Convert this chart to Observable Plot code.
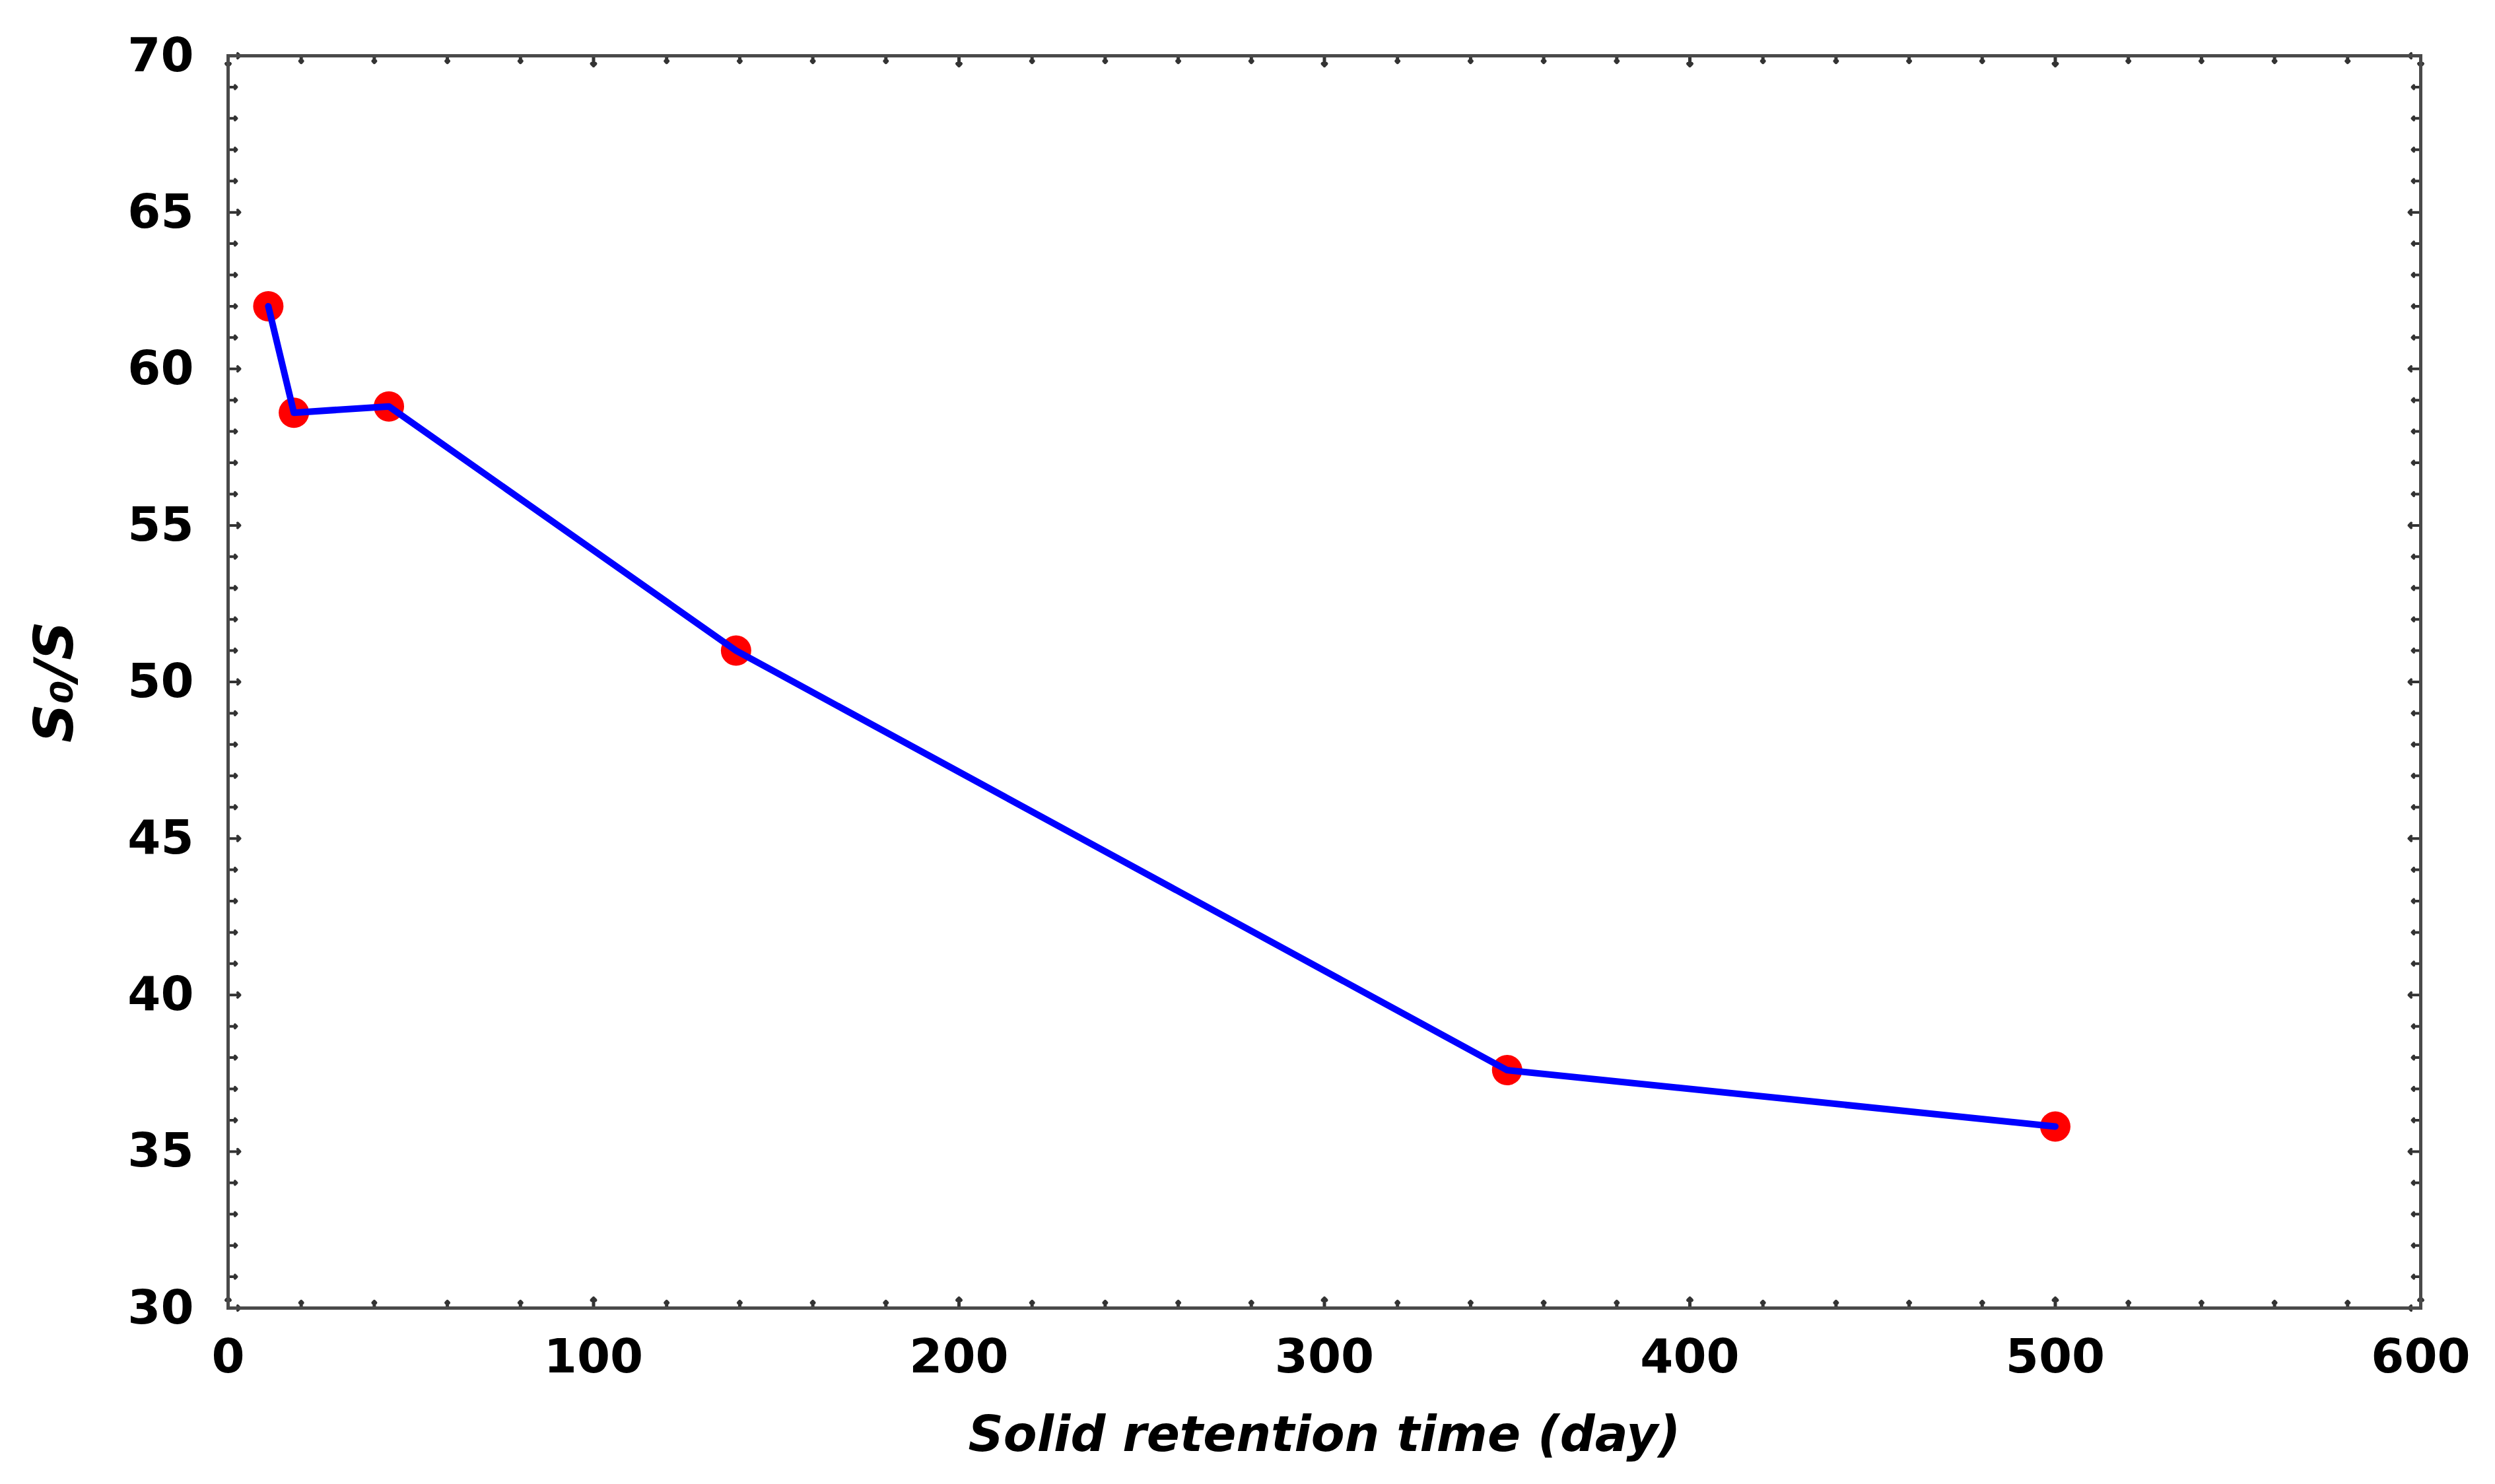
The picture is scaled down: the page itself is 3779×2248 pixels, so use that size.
<!DOCTYPE html>
<html><head><meta charset="utf-8">
<script src="https://cdn.jsdelivr.net/npm/d3@7"></script>
<script src="https://cdn.jsdelivr.net/npm/@observablehq/plot@0.6"></script>
<style>html,body{margin:0;padding:0;background:#fff;}</style>
</head><body><div id="chart"></div>
<script>
// Data
const srtDays = [11, 18, 44, 139, 350, 500];
const s0OverS = [62.0, 58.6, 58.8, 51.0, 37.6, 35.8];
const xTickLabels = [0, 100, 200, 300, 400, 500, 600];
const yTickLabels = [30, 35, 40, 45, 50, 55, 60, 65, 70];
const xMinorTicks = d3.range(0, 601, 20).filter(v => v % 100 !== 0);
const yMinorTicks = d3.range(30, 71, 1).filter(v => v % 5 !== 0);
const xTitle = "Solid retention time (day)";
const yTitle = "S₀/S";

const xDomain = [0, 600];
const yDomain = [30, 70];
const data = srtDays.map((x, i) => ({x, y: s0OverS[i]}));

const tickColor = "#333";
const tickMarks = (vals, axis, len, sw) => {
  const opts = {anchor: "start", length: len, stroke: tickColor, strokeWidth: sw};
  if (axis === "bottom") return Plot.vector(vals, {...opts, x: d => d, y: () => yDomain[0], rotate: 0});
  if (axis === "top") return Plot.vector(vals, {...opts, x: d => d, y: () => yDomain[1], rotate: 180});
  if (axis === "left") return Plot.vector(vals, {...opts, y: d => d, x: () => xDomain[0], rotate: 90});
  return Plot.vector(vals, {...opts, y: d => d, x: () => xDomain[1], rotate: 270});
};

const chart = Plot.plot({
  width: 3779,
  height: 2248,
  marginLeft: 345,
  marginRight: 113,
  marginTop: 84,
  marginBottom: 267,
  style: {fontFamily: "'DejaVu Sans', sans-serif", color: "#000", background: "#fff"},
  x: {domain: xDomain},
  y: {domain: yDomain},
  marks: [
    ...["bottom", "top"].flatMap(a => [tickMarks(xMinorTicks, a, 10, 5), tickMarks(xTickLabels, a, 15, 5)]),
    ...["left", "right"].flatMap(a => [tickMarks(yMinorTicks, a, 13, 4), tickMarks(yTickLabels, a, 18, 4)]),
    Plot.frame({stroke: "#4a4a4a", strokeWidth: 5}),
    Plot.axisX(xTickLabels, {tickSize: 0, tickPadding: 46, fontSize: 72, fontWeight: "bold", label: null}),
    Plot.axisY(yTickLabels, {tickSize: 0, tickPadding: 52, fontSize: 72, fontWeight: "bold", label: null}),
    Plot.text([xTitle], {frameAnchor: "bottom", dy: 193, lineAnchor: "middle", fontSize: 74, fontWeight: "bold", fontStyle: "italic", text: d => d}),
    Plot.text([yTitle], {frameAnchor: "left", dx: -262, rotate: -90, textAnchor: "middle", lineAnchor: "middle", fontSize: 82, fontWeight: "bold", fontStyle: "italic", text: d => d}),
    Plot.dot(data, {x: "x", y: "y", r: 23, fill: "#ff0000", stroke: null}),
    Plot.line(data, {x: "x", y: "y", stroke: "#0000ff", strokeWidth: 10, strokeLinejoin: "round", strokeLinecap: "round"})
  ]
});
document.getElementById("chart").appendChild(chart);
</script>
</body></html>
